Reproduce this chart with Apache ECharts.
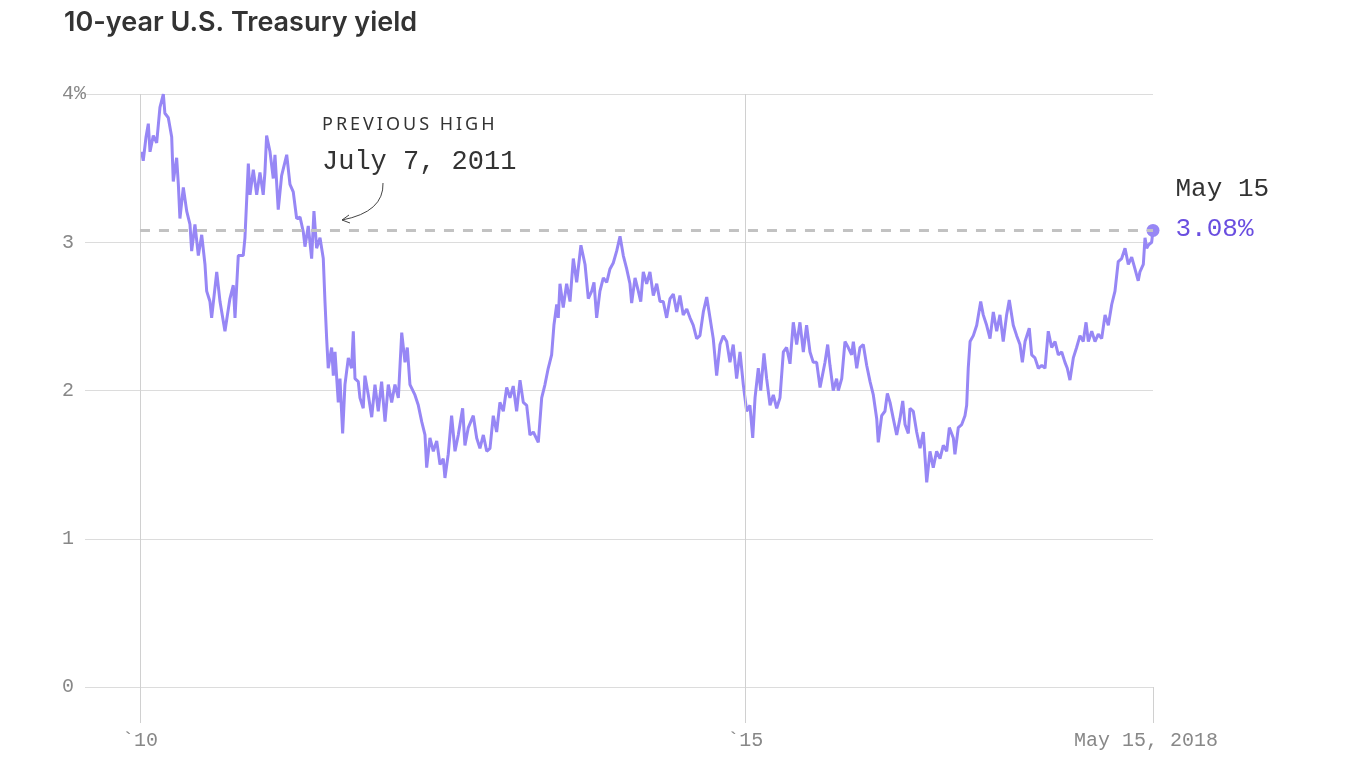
<!DOCTYPE html>
<html>
<head>
<meta charset="utf-8">
<title>10-year U.S. Treasury yield</title>
<script src="https://cdn.jsdelivr.net/npm/echarts@6/dist/echarts.min.js"></script>
<style>
  html, body { margin: 0; padding: 0; background: #fff; }
  #chart { width: 1366px; height: 768px; }
</style>
</head>
<body>
<div id="chart"></div>
<script>
// decimal years
const years = [
  2010.014, 2010.027, 2010.050, 2010.069, 2010.083, 2010.110, 2010.138, 2010.165, 2010.193, 2010.206,
  2010.234, 2010.262, 2010.275, 2010.303, 2010.317, 2010.330, 2010.358, 2010.386, 2010.413, 2010.427,
  2010.454, 2010.482, 2010.510, 2010.537, 2010.551, 2010.578, 2010.592, 2010.634, 2010.661, 2010.702,
  2010.743, 2010.771, 2010.785, 2010.812, 2010.853, 2010.867, 2010.895, 2010.909, 2010.936, 2010.964,
  2010.991, 2011.018, 2011.032, 2011.046, 2011.074, 2011.101, 2011.115, 2011.142, 2011.170, 2011.212,
  2011.239, 2011.266, 2011.294, 2011.322, 2011.349, 2011.363, 2011.390, 2011.418, 2011.437, 2011.459,
  2011.487, 2011.514, 2011.528, 2011.542, 2011.555, 2011.583, 2011.597, 2011.611, 2011.638, 2011.652,
  2011.674, 2011.693, 2011.721, 2011.748, 2011.762, 2011.776, 2011.803, 2011.817, 2011.844, 2011.858,
  2011.886, 2011.914, 2011.941, 2011.968, 2011.996, 2012.024, 2012.051, 2012.079, 2012.106, 2012.134,
  2012.162, 2012.189, 2012.208, 2012.230, 2012.271, 2012.299, 2012.327, 2012.354, 2012.368, 2012.395,
  2012.423, 2012.451, 2012.478, 2012.505, 2012.519, 2012.546, 2012.574, 2012.602, 2012.629, 2012.665,
  2012.684, 2012.712, 2012.753, 2012.781, 2012.808, 2012.836, 2012.864, 2012.891, 2012.918, 2012.946,
  2012.973, 2013.001, 2013.029, 2013.056, 2013.083, 2013.111, 2013.139, 2013.166, 2013.194, 2013.221,
  2013.249, 2013.290, 2013.318, 2013.345, 2013.372, 2013.400, 2013.419, 2013.442, 2013.455, 2013.469,
  2013.496, 2013.524, 2013.552, 2013.579, 2013.607, 2013.642, 2013.676, 2013.703, 2013.731, 2013.750,
  2013.772, 2013.799, 2013.827, 2013.855, 2013.882, 2013.909, 2013.937, 2013.965, 2013.992, 2014.020,
  2014.047, 2014.061, 2014.089, 2014.116, 2014.136, 2014.157, 2014.185, 2014.212, 2014.240, 2014.268,
  2014.295, 2014.322, 2014.350, 2014.378, 2014.405, 2014.433, 2014.460, 2014.487, 2014.516, 2014.543,
  2014.570, 2014.598, 2014.625, 2014.653, 2014.681, 2014.708, 2014.735, 2014.763, 2014.791, 2014.818,
  2014.846, 2014.873, 2014.900, 2014.928, 2014.956, 2014.983, 2015.011, 2015.038, 2015.061, 2015.080,
  2015.107, 2015.127, 2015.154, 2015.176, 2015.204, 2015.231, 2015.259, 2015.286, 2015.314, 2015.341,
  2015.369, 2015.396, 2015.424, 2015.451, 2015.479, 2015.506, 2015.534, 2015.561, 2015.589, 2015.617,
  2015.658, 2015.680, 2015.699, 2015.726, 2015.754, 2015.768, 2015.796, 2015.823, 2015.850, 2015.878,
  2015.892, 2015.920, 2015.947, 2015.974, 2016.002, 2016.030, 2016.057, 2016.085, 2016.098, 2016.126,
  2016.153, 2016.173, 2016.195, 2016.222, 2016.250, 2016.277, 2016.300, 2016.319, 2016.346, 2016.360,
  2016.387, 2016.415, 2016.443, 2016.470, 2016.498, 2016.525, 2016.552, 2016.580, 2016.608, 2016.635,
  2016.663, 2016.685, 2016.718, 2016.731, 2016.759, 2016.787, 2016.814, 2016.828, 2016.841, 2016.856,
  2016.883, 2016.911, 2016.944, 2016.965, 2016.993, 2017.021, 2017.048, 2017.076, 2017.103, 2017.130,
  2017.158, 2017.180, 2017.213, 2017.241, 2017.268, 2017.288, 2017.310, 2017.345, 2017.365, 2017.392,
  2017.420, 2017.448, 2017.475, 2017.502, 2017.530, 2017.558, 2017.585, 2017.613, 2017.640, 2017.659,
  2017.681, 2017.709, 2017.736, 2017.764, 2017.791, 2017.814, 2017.833, 2017.861, 2017.888, 2017.915,
  2017.943, 2017.971, 2017.998, 2018.026, 2018.053, 2018.080, 2018.108, 2018.136, 2018.163, 2018.191,
  2018.218, 2018.245, 2018.259, 2018.287, 2018.301, 2018.315, 2018.328, 2018.356, 2018.367
];

// yield in percent
const yields = [
  3.61, 3.55, 3.71, 3.80, 3.61, 3.72, 3.67, 3.91, 4.00, 3.87,
  3.84, 3.71, 3.41, 3.57, 3.39, 3.16, 3.37, 3.21, 3.12, 2.94,
  3.12, 2.91, 3.05, 2.85, 2.67, 2.60, 2.49, 2.80, 2.60, 2.40,
  2.62, 2.71, 2.49, 2.91, 2.91, 3.03, 3.53, 3.32, 3.49, 3.32,
  3.47, 3.32, 3.47, 3.72, 3.61, 3.43, 3.59, 3.22, 3.45, 3.59,
  3.39, 3.34, 3.16, 3.17, 3.07, 2.97, 3.11, 2.89, 3.21, 2.96,
  3.03, 2.89, 2.60, 2.35, 2.15, 2.29, 2.10, 2.26, 1.92, 2.08,
  1.71, 2.04, 2.22, 2.15, 2.40, 2.08, 2.06, 1.95, 1.88, 2.10,
  1.97, 1.82, 2.04, 1.86, 2.06, 1.79, 2.04, 1.92, 2.04, 1.95,
  2.39, 2.19, 2.29, 2.04, 1.97, 1.90, 1.79, 1.70, 1.48, 1.68,
  1.59, 1.66, 1.50, 1.54, 1.41, 1.57, 1.83, 1.59, 1.70, 1.88,
  1.63, 1.75, 1.83, 1.68, 1.61, 1.70, 1.59, 1.61, 1.83, 1.72,
  1.92, 1.86, 2.02, 1.95, 2.03, 1.86, 2.07, 1.92, 1.90, 1.70,
  1.72, 1.65, 1.95, 2.04, 2.15, 2.24, 2.44, 2.58, 2.49, 2.72,
  2.56, 2.72, 2.60, 2.89, 2.73, 2.98, 2.85, 2.62, 2.67, 2.73,
  2.49, 2.67, 2.76, 2.73, 2.82, 2.86, 2.94, 3.04, 2.91, 2.82,
  2.72, 2.59, 2.76, 2.67, 2.60, 2.80, 2.72, 2.80, 2.64, 2.72,
  2.60, 2.60, 2.49, 2.62, 2.65, 2.53, 2.64, 2.51, 2.55, 2.49,
  2.44, 2.35, 2.37, 2.53, 2.63, 2.49, 2.35, 2.10, 2.31, 2.37,
  2.33, 2.19, 2.31, 2.08, 2.26, 2.04, 1.86, 1.90, 1.68, 1.95,
  2.15, 2.00, 2.25, 2.08, 1.90, 1.97, 1.88, 1.95, 2.26, 2.29,
  2.18, 2.46, 2.31, 2.46, 2.26, 2.44, 2.26, 2.19, 2.19, 2.02,
  2.19, 2.31, 2.17, 2.00, 2.08, 2.00, 2.08, 2.33, 2.29, 2.24,
  2.33, 2.15, 2.29, 2.31, 2.17, 2.06, 1.97, 1.81, 1.65, 1.83,
  1.86, 1.98, 1.92, 1.81, 1.70, 1.81, 1.93, 1.77, 1.71, 1.88,
  1.86, 1.72, 1.61, 1.72, 1.38, 1.59, 1.48, 1.59, 1.54, 1.63,
  1.59, 1.75, 1.68, 1.57, 1.75, 1.77, 1.83, 1.90, 2.15, 2.33,
  2.37, 2.44, 2.60, 2.51, 2.44, 2.35, 2.53, 2.40, 2.51, 2.33,
  2.51, 2.61, 2.44, 2.37, 2.31, 2.19, 2.33, 2.42, 2.24, 2.22,
  2.15, 2.17, 2.15, 2.40, 2.29, 2.33, 2.24, 2.26, 2.19, 2.15,
  2.07, 2.22, 2.29, 2.37, 2.33, 2.46, 2.33, 2.40, 2.33, 2.38,
  2.35, 2.51, 2.44, 2.58, 2.67, 2.87, 2.89, 2.96, 2.85, 2.90,
  2.82, 2.74, 2.80, 2.85, 3.03, 2.96, 2.98, 3.00, 3.08
];

const yTicks = [0, 1, 2, 3, 4];
const xTickValues = [2010, 2015, 2018.367];
const xTickLabels = ['`10', '`15', 'May 15, 2018'];

const previousHigh = 3.08;          // level last seen July 7, 2011
const lastLabel = 'May 15';

const lineColor = '#9787f5';
const mono = '"Liberation Mono", "DejaVu Sans Mono", monospace';

const lastIndex = years.length - 1;
const seriesData = years.map(function (y, i) { return [y, yields[i]]; });

const myChart = echarts.init(document.getElementById('chart'));

const option = {
  animation: false,
  title: {
    text: '10-year U.S. Treasury yield',
    left: 59,
    top: 4,
    textStyle: {
      fontFamily: 'Inter, "Noto Sans", sans-serif',
      fontSize: 27,
      fontWeight: 600,
      color: '#333'
    }
  },
  grid: {
    left: 85,
    right: 213,
    top: 94,
    bottom: 81
  },
  xAxis: {
    type: 'value',
    min: 2009.546,
    max: 2018.367,
    axisLine: { show: false },
    splitLine: { show: false },
    axisTick: {
      show: true,
      customValues: xTickValues,
      length: 36,
      lineStyle: { color: '#d0d0d0', width: 1 }
    },
    axisLabel: {
      customValues: xTickValues,
      margin: 44,
      fontFamily: mono,
      fontSize: 20,
      color: '#888',
      formatter: function (v) {
        const i = xTickValues.indexOf(v);
        if (i < 0) return '';
        // last label sits a little left of its rule
        return i === xTickValues.length - 1 ? '{e|' + xTickLabels[i] + '}' : xTickLabels[i];
      },
      rich: {
        e: { fontFamily: mono, fontSize: 20, color: '#888', padding: [0, 14, 0, 0] }
      }
    }
  },
  yAxis: {
    type: 'value',
    min: 0,
    max: 4,
    interval: 1,
    axisLine: { show: false },
    axisTick: { show: false },
    splitLine: { lineStyle: { color: '#dcdcdc', width: 1 } },
    axisLabel: {
      align: 'left',
      margin: 23,
      fontFamily: mono,
      fontSize: 20,
      color: '#888',
      formatter: function (v) {
        return v === yTicks[yTicks.length - 1] ? v + '%' : String(v);
      }
    }
  },
  graphic: [
    {
      type: 'text',
      left: 322,
      top: 116,
      style: {
        text: 'PREVIOUS HIGH'.split('').join('\u2009'),
        font: '18px "Noto Sans", sans-serif',
        fill: '#333'
      }
    },
    {
      type: 'text',
      left: 322,
      top: 148,
      style: {
        text: 'July 7, 2011',
        font: '27px "Liberation Mono", monospace',
        fill: '#333'
      }
    },
    {
      type: 'bezierCurve',
      shape: { x1: 383, y1: 183, cpx1: 384, cpy1: 212, x2: 342, y2: 220 },
      style: { stroke: '#444', lineWidth: 1, fill: null }
    },
    {
      type: 'polyline',
      shape: { points: [[349, 215], [342, 220], [350, 223]] },
      style: { stroke: '#444', lineWidth: 1, fill: null }
    }
  ],
  series: [
    {
      // background rules and the previous-high line
      type: 'line',
      data: [],
      z: 1,
      silent: true,
      markLine: {
        silent: true,
        symbol: 'none',
        label: { show: false },
        data: xTickValues.map(function (v) {
          return { xAxis: v, lineStyle: { color: '#d0d0d0', width: 1, type: 'solid' } };
        }).concat([
          [
            { coord: [years[0] - 0.014, previousHigh], lineStyle: { color: '#c2c2c2', width: 3, type: [10, 9] } },
            { coord: [years[lastIndex], previousHigh] }
          ]
        ])
      }
    },
    {
      name: '10-year yield',
      type: 'line',
      z: 3,
      showSymbol: false,
      symbol: 'none',
      lineStyle: { color: lineColor, width: 3 },
      data: seriesData
    },
    {
      type: 'scatter',
      z: 4,
      symbolSize: 13,
      itemStyle: { color: lineColor, opacity: 1 },
      data: [[years[lastIndex], yields[lastIndex]]],
      label: {
        show: true,
        position: 'right',
        distance: 16,
        offset: [0, -21],
        formatter: function (p) {
          return '{d|' + lastLabel + '}\n{v|' + p.value[1].toFixed(2) + '%}';
        },
        rich: {
          d: { fontFamily: mono, fontSize: 26, color: '#333', lineHeight: 40 },
          v: { fontFamily: mono, fontSize: 26, color: '#6a4ee0', lineHeight: 40 }
        }
      }
    }
  ]
};

myChart.setOption(option);
</script>
</body>
</html>
